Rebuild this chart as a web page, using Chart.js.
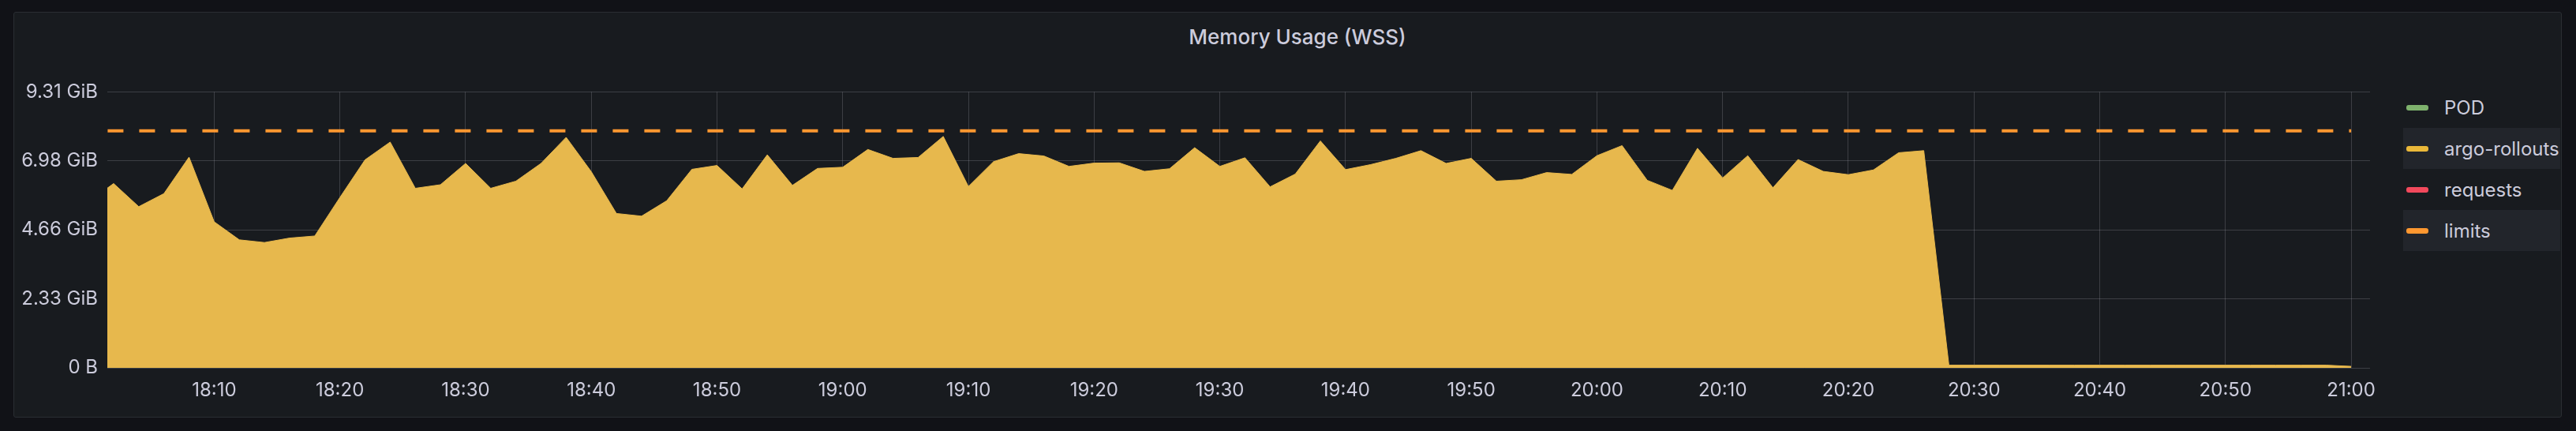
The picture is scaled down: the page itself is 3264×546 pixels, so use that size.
<!DOCTYPE html>
<html>
<head>
<meta charset="utf-8">
<title>Memory Usage (WSS)</title>
<script src="https://cdn.jsdelivr.net/npm/chart.js@4.4.1/dist/chart.umd.min.js"></script>
<style>
  html, body {
    margin: 0;
    padding: 0;
    width: 3264px;
    height: 546px;
    overflow: hidden;
    background: #111217;
    font-family: Inter, "Noto Sans", sans-serif;
  }
  .panel {
    position: absolute;
    left: 17px;
    top: 15px;
    width: 3229px;
    height: 514px;
    box-sizing: border-box;
    background: #181b1f;
    border: 1px solid #2a2d32;
    border-radius: 3px;
  }
  .panel-title {
    position: absolute;
    left: 1644px;
    top: 34px;
    transform: translateX(-50%);
    font-size: 26px;
    line-height: 26px;
    font-weight: 500;
    color: #ccccdc;
    white-space: nowrap;
  }
  #chartWrap {
    position: absolute;
    left: 20px;
    top: 90px;
    width: 3010px;
    height: 426px;
  }
  .legend {
    position: absolute;
    left: 3045px;
    top: 110px;
    width: 199px;
  }
  .legend-row {
    height: 52px;
    display: flex;
    align-items: center;
    font-size: 24px;
    color: #ccccdc;
  }
  .legend-row.alt {
    background: #22252b;
  }
  .swatch {
    width: 28px;
    height: 7px;
    border-radius: 3px;
    margin-left: 4px;
    margin-right: 20px;
  }
</style>
</head>
<body>
<div class="panel"></div>
<div class="panel-title">Memory Usage (WSS)</div>
<div id="chartWrap"><canvas id="memChart"></canvas></div>
<div class="legend" id="legend"></div>

<script>
const GIB = 1073741824;

// sample times (every 2 minutes)
const times = [
  '18:00','18:02','18:04','18:06','18:08','18:10','18:12','18:14','18:16','18:18',
  '18:20','18:22','18:24','18:26','18:28','18:30','18:32','18:34','18:36','18:38',
  '18:40','18:42','18:44','18:46','18:48','18:50','18:52','18:54','18:56','18:58',
  '19:00','19:02','19:04','19:06','19:08','19:10','19:12','19:14','19:16','19:18',
  '19:20','19:22','19:24','19:26','19:28','19:30','19:32','19:34','19:36','19:38',
  '19:40','19:42','19:44','19:46','19:48','19:50','19:52','19:54','19:56','19:58',
  '20:00','20:02','20:04','20:06','20:08','20:10','20:12','20:14','20:16','20:18',
  '20:20','20:22','20:24','20:26','20:28','20:30','20:32','20:34','20:36','20:38',
  '20:40','20:42','20:44','20:46','20:48','20:50','20:52','20:54','20:56','20:58',
  '21:00'
];

// argo-rollouts working set, GiB
const argoRollouts = [
  5.60, 6.22, 5.44, 5.88, 7.11, 4.93, 4.32, 4.23, 4.38, 4.45,
  5.75, 7.02, 7.62, 6.06, 6.18, 6.90, 6.06, 6.30, 6.90, 7.78,
  6.62, 5.21, 5.12, 5.64, 6.70, 6.83, 6.04, 7.19, 6.16, 6.73,
  6.77, 7.37, 7.07, 7.10, 7.81, 6.12, 6.96, 7.23, 7.15, 6.80,
  6.91, 6.92, 6.63, 6.72, 7.43, 6.80, 7.09, 6.11, 6.54, 7.66,
  6.69, 6.86, 7.07, 7.33, 6.90, 7.07, 6.30, 6.35, 6.59, 6.53,
  7.16, 7.50, 6.33, 5.99, 7.41, 6.41, 7.16, 6.08, 7.03, 6.63,
  6.52, 6.68, 7.26, 7.33, 0.09, 0.09, 0.09, 0.09, 0.09, 0.09,
  0.09, 0.09, 0.09, 0.09, 0.09, 0.09, 0.09, 0.09, 0.09, 0.09,
  0.05
];

// POD and requests have no points in this range
const pod = [];
const requests = [];
const limitGiB = 8;

const xTickLabels = ['18:10','18:20','18:30','18:40','18:50','19:00','19:10','19:20','19:30',
  '19:40','19:50','20:00','20:10','20:20','20:30','20:40','20:50','21:00'];
const yTickBytes = [0, 2.5e9, 5e9, 7.5e9, 1e10];

const seriesNames = ['POD', 'argo-rollouts', 'requests', 'limits'];
const seriesColors = ['#7eb26d', '#eab839', '#f2495c', '#ff9830'];

const textColor = '#ccccdc';
const gridColor = 'rgba(204, 204, 220, 0.2)';

function toMin(label) {
  const parts = label.split(':');
  return (parseInt(parts[0], 10) - 18) * 60 + parseInt(parts[1], 10);
}

function fmtMin(v) {
  const total = 18 * 60 + Math.round(v);
  const h = Math.floor(total / 60);
  const m = total % 60;
  return h + ':' + (m < 10 ? '0' : '') + m;
}

function toPoints(values) {
  return values.map((v, i) => ({ x: toMin(times[i]), y: v }));
}

const ctx = document.getElementById('memChart').getContext('2d');
const memChart = new Chart(ctx, {
  type: 'line',
  data: {
    datasets: [
      {
        label: seriesNames[0],
        data: toPoints(pod),
        borderColor: seriesColors[0],
        pointRadius: 0,
        order: 1
      },
      {
        label: seriesNames[1],
        data: toPoints(argoRollouts),
        borderColor: '#e7b84d',
        backgroundColor: '#e7b84d',
        borderWidth: 1,
        fill: 'origin',
        pointRadius: 0,
        tension: 0,
        order: 2
      },
      {
        label: seriesNames[2],
        data: toPoints(requests),
        borderColor: seriesColors[2],
        pointRadius: 0,
        order: 1
      },
      {
        label: seriesNames[3],
        data: times.map(t => ({ x: toMin(t), y: limitGiB })),
        borderColor: seriesColors[3],
        borderWidth: 4,
        borderDash: [20, 20],
        borderDashOffset: 15.7,
        borderCapStyle: 'butt',
        fill: false,
        pointRadius: 0,
        order: 0
      }
    ]
  },
  options: {
    responsive: true,
    maintainAspectRatio: false,
    animation: false,
    layout: {
      padding: { top: 24, right: 27, left: 0, bottom: 0 }
    },
    plugins: {
      legend: { display: false },
      tooltip: { enabled: false }
    },
    scales: {
      x: {
        type: 'linear',
        min: 1.5,
        max: 181.5,
        border: { display: false },
        grid: { color: gridColor, lineWidth: 1, drawTicks: false },
        afterBuildTicks: scale => {
          scale.ticks = xTickLabels.map(l => ({ value: toMin(l) }));
        },
        afterFit: scale => { scale.height = 50; },
        ticks: {
          color: textColor,
          font: { family: 'Inter', size: 24 },
          padding: 14,
          maxRotation: 0,
          autoSkip: false,
          callback: v => fmtMin(v)
        }
      },
      y: {
        type: 'linear',
        min: 0,
        max: yTickBytes[yTickBytes.length - 1] / GIB,
        border: { display: false },
        grid: { color: gridColor, lineWidth: 1, drawTicks: false },
        afterBuildTicks: scale => {
          scale.ticks = yTickBytes.map(b => ({ value: b / GIB }));
        },
        afterFit: scale => { scale.width = 116; },
        ticks: {
          color: textColor,
          font: { family: 'Inter', size: 24 },
          padding: 12,
          callback: v => (v === 0 ? '0 B' : v.toFixed(2) + ' GiB')
        }
      }
    }
  }
});

// Legend on the right
const legend = document.getElementById('legend');
seriesNames.forEach((name, i) => {
  const row = document.createElement('div');
  row.className = 'legend-row' + (i % 2 === 1 ? ' alt' : '');
  const sw = document.createElement('span');
  sw.className = 'swatch';
  sw.style.background = seriesColors[i];
  const txt = document.createElement('span');
  txt.textContent = name;
  row.appendChild(sw);
  row.appendChild(txt);
  legend.appendChild(row);
});
</script>
</body>
</html>
